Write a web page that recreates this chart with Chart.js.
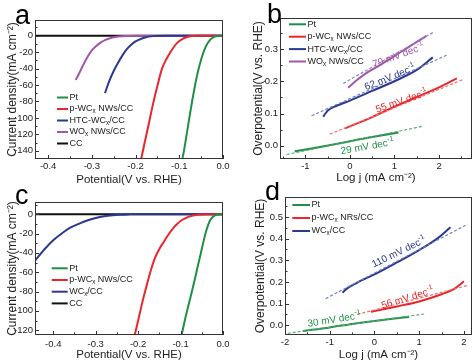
<!DOCTYPE html>
<html>
<head>
<meta charset="utf-8">
<script src="https://cdn.jsdelivr.net/npm/chart.js@4"></script>
<style>
  body { margin: 0; background: #fff; }
  #wrap { position: relative; width: 474px; height: 364px; overflow: hidden; background: #fff; }
  #wrap canvas { position: absolute; }
</style>
</head>
<body>
<div id="wrap">
  <canvas id="panel-a" width="237" height="190" style="left:0;top:0"></canvas>
  <canvas id="panel-b" width="237" height="190" style="left:237px;top:0"></canvas>
  <canvas id="panel-c" width="237" height="182" style="left:0;top:182px"></canvas>
  <canvas id="panel-d" width="237" height="182" style="left:237px;top:182px"></canvas>
</div>
<script>
// ---- panel a : polarization curves (potential V, current density mA cm-2)
const aPtV  = [-0.093, -0.09, -0.08, -0.07, -0.06, -0.05, -0.04, -0.03, -0.02, -0.01, 0];
const aPtJ  = [-150, -142, -110, -78, -50, -29, -14, -5.5, -1.5, -0.3, 0];
const aPwcV = [-0.187, -0.18, -0.17, -0.16, -0.15, -0.14, -0.13, -0.12, -0.11, -0.10, -0.08, -0.05, 0];
const aPwcJ = [-150, -132, -108, -83, -61, -41, -29, -20, -12, -6.5, -1.3, -0.2, 0];
const aHtcV = [-0.27, -0.26, -0.25, -0.24, -0.23, -0.22, -0.21, -0.20, -0.19, -0.18, -0.16, -0.13, 0];
const aHtcJ = [-70, -55, -43, -33, -24, -16.5, -11, -7, -4.5, -2.5, -0.6, -0.1, 0];
const aWoV  = [-0.337, -0.33, -0.32, -0.31, -0.30, -0.29, -0.28, -0.27, -0.26, -0.24, -0.22, -0.19, 0];
const aWoJ  = [-54, -47, -36, -26, -18, -12.5, -8.5, -5.5, -3.5, -1.2, -0.4, -0.1, 0];
const aCcV  = [-0.43, 0];
const aCcJ  = [0, 0];

// ---- panel b : Tafel plots (log j, overpotential V) + linear fits
const bPtX  = [-1.24, -0.8, -0.4, 0, 0.4, 0.8, 1.09];
const bPtY  = [-0.017, -0.007, 0.003, 0.014, 0.025, 0.034, 0.041];
const bPtFitX = [-1.42, 1.65];
const bPtFitY = [-0.027, 0.061];
const bPwcX = [-0.11, 0.5, 1.0, 1.5, 2.0, 2.4];
const bPwcY = [0.054, 0.089, 0.121, 0.151, 0.181, 0.209];
const bPwcFitX = [-0.45, 2.55];
const bPwcFitY = [0.036, 0.206];
const bHtcX = [-0.6, -0.55, -0.49, -0.3, 0, 0.5, 1.0, 1.5, 1.86];
const bHtcY = [0.09, 0.1, 0.11, 0.124, 0.14, 0.17, 0.2, 0.235, 0.274];
const bHtcFitX = [-0.86, 2.21];
const bHtcFitY = [0.093, 0.283];
const bWoX  = [-0.04, 0.15, 0.4, 0.67, 1.0, 1.27, 1.5, 1.72];
const bWoY  = [0.18, 0.203, 0.228, 0.25, 0.278, 0.302, 0.322, 0.341];
const bWoFitX = [-0.15, 1.89];
const bWoFitY = [0.193, 0.353];

// ---- panel c : polarization curves
const cPtV  = [-0.097, -0.09, -0.08, -0.07, -0.06, -0.05, -0.04, -0.03, -0.02, -0.01, 0];
const cPtJ  = [-124, -110, -92, -74, -55, -36, -18, -6, -1.5, -0.3, 0];
const cPwcV = [-0.208, -0.20, -0.19, -0.18, -0.17, -0.16, -0.15, -0.14, -0.13, -0.12, -0.11, -0.10, -0.09, -0.08, -0.06, -0.04, 0];
const cPwcJ = [-125, -110, -91, -74, -58, -45, -36, -29, -22, -16, -11, -7, -4.5, -2.5, -0.6, -0.1, 0];
const cWcV  = [-0.443, -0.42, -0.40, -0.38, -0.36, -0.34, -0.32, -0.30, -0.28, -0.26, -0.24, -0.22, -0.20, 0];
const cWcJ  = [-48, -36, -27, -20, -14, -10, -6.5, -4, -2.2, -1.1, -0.5, -0.2, 0, 0];
const cCcV  = [-0.443, 0];
const cCcJ  = [0, 0];

// ---- panel d : Tafel plots + linear fits
const dPtX  = [-1.6, -1.0, -0.5, 0, 0.4, 0.77];
const dPtY  = [-0.026, -0.01, 0.006, 0.02, 0.03, 0.038];
const dPtFitX = [-1.94, 1.11];
const dPtFitY = [-0.037, 0.052];
const dPwcX = [-0.08, 0.5, 1.0, 1.5, 1.8, 2.0];
const dPwcY = [0.062, 0.087, 0.11, 0.143, 0.17, 0.203];
const dPwcFitX = [-0.38, 2.07];
const dPwcFitY = [0.05, 0.183];
const dWcX  = [-0.71, -0.66, -0.4, 0, 0.5, 1.0, 1.4, 1.7];
const dWcY  = [0.15, 0.162, 0.195, 0.235, 0.29, 0.347, 0.4, 0.452];
const dWcFitX = [-1.09, 2.08];
const dWcFitY = [0.123, 0.466];

const GREEN = "#1f8f45", RED = "#e8262b", NAVY = "#2b3990", PURPLE = "#a356a8", BLACK = "#111111";
const GREEN_FIT = "#5aa877", RED_FIT = "#ee7070", NAVY_FIT = "#7080b8", PURPLE_FIT = "#8088c6";
const FONT = '"Liberation Sans", Arial, sans-serif';
const INK = "#222";

Chart.defaults.font.family = FONT;

function pts(xs, ys) {
  return xs.map((x, i) => ({ x: x, y: ys[i] }));
}

function curve(xs, ys, color) {
  return {
    data: pts(xs, ys),
    borderColor: color,
    borderWidth: 2,
    showLine: true,
    pointRadius: 0,
    cubicInterpolationMode: "monotone",
  };
}

function fitLine(xs, ys, color) {
  return {
    data: pts(xs, ys),
    borderColor: color,
    borderWidth: 1.2,
    borderDash: [3, 2],
    showLine: true,
    pointRadius: 0,
  };
}

// "p-WC_{x} NWs/CC" -> segments, _{} is subscript, ^{} is superscript
function parseRich(s) {
  const out = [];
  const re = /([_^])\{([^}]*)\}/g;
  let last = 0, m;
  while ((m = re.exec(s))) {
    if (m.index > last) out.push({ t: s.slice(last, m.index), k: "" });
    out.push({ t: m[2], k: m[1] });
    last = re.lastIndex;
  }
  if (last < s.length) out.push({ t: s.slice(last), k: "" });
  return out;
}

function richWidth(ctx, s, size) {
  let w = 0;
  parseRich(s).forEach((seg) => {
    ctx.font = (seg.k ? size * 0.7 : size) + "px " + FONT;
    w += ctx.measureText(seg.t).width;
  });
  return w;
}

function drawRich(ctx, s, x, y, size) {
  ctx.textBaseline = "middle";
  ctx.textAlign = "left";
  parseRich(s).forEach((seg) => {
    ctx.font = (seg.k ? size * 0.7 : size) + "px " + FONT;
    let dy = 0;
    if (seg.k === "_") dy = size * 0.3;
    if (seg.k === "^") dy = -size * 0.38;
    ctx.fillText(seg.t, x, y + dy);
    x += ctx.measureText(seg.t).width;
  });
}

// major tick values plus half-step minor ones
function tickMarks(scale, step) {
  const marks = [];
  const majors = scale.ticks.map((t) => t.value);
  majors.forEach((v) => marks.push([v, 4]));
  const cand = majors.map((v) => v + step / 2);
  if (majors.length) cand.push(majors[0] - step / 2);
  cand.forEach((v) => {
    if (v > scale.min && v < scale.max) marks.push([v, 2.5]);
  });
  return marks;
}

// frame, inward ticks, legend, slope notes, panel letter
function panelPlugin(p) {
  return {
    id: "panelDecor",
    afterDatasetsDraw(chart) {
      const { ctx, chartArea: a, scales } = chart;
      ctx.save();
      ctx.strokeStyle = "#333";
      ctx.lineWidth = 1;
      ctx.strokeRect(a.left + 0.5, a.top + 0.5, a.right - a.left - 1, a.bottom - a.top - 1);

      ctx.beginPath();
      tickMarks(scales.x, p.x.step).forEach(([v, len]) => {
        const px = Math.round(scales.x.getPixelForValue(v)) + 0.5;
        ctx.moveTo(px, a.bottom);
        ctx.lineTo(px, a.bottom - len);
      });
      tickMarks(scales.y, p.y.step).forEach(([v, len]) => {
        const py = Math.round(scales.y.getPixelForValue(v)) + 0.5;
        ctx.moveTo(a.left, py);
        ctx.lineTo(a.left + len, py);
      });
      ctx.stroke();

      // legend inside the plot
      const lg = p.legend;
      lg.items.forEach((it, i) => {
        const yy = a.top + lg.y + i * lg.gap;
        ctx.strokeStyle = it.color;
        ctx.lineWidth = 2;
        ctx.beginPath();
        ctx.moveTo(a.left + lg.x, yy);
        ctx.lineTo(a.left + lg.x + lg.w, yy);
        ctx.stroke();
        ctx.fillStyle = INK;
        drawRich(ctx, it.label, a.left + lg.x + lg.w + 1.5, yy, 9);
      });

      // Tafel slope notes, placed in data coordinates
      (p.notes || []).forEach((n) => {
        const px = scales.x.getPixelForValue(n.x);
        const py = scales.y.getPixelForValue(n.y);
        ctx.save();
        ctx.translate(px, py);
        ctx.rotate((n.angle * Math.PI) / 180);
        ctx.fillStyle = n.color;
        const w = richWidth(ctx, n.text, 10);
        drawRich(ctx, n.text, -w / 2, 0, 10);
        ctx.restore();
      });

      ctx.fillStyle = "#000";
      ctx.font = "27px " + FONT;
      ctx.textBaseline = "alphabetic";
      ctx.textAlign = "left";
      ctx.fillText(p.letter.text, p.letter.x, p.letter.y);
      ctx.restore();
    },
  };
}

function makePanel(id, p) {
  new Chart(document.getElementById(id), {
    type: "scatter",
    data: { datasets: p.datasets },
    options: {
      responsive: false,
      animation: false,
      devicePixelRatio: 1,
      layout: { padding: p.pad },
      plugins: { legend: { display: false }, tooltip: { enabled: false } },
      scales: {
        x: {
          type: "linear",
          min: p.x.min,
          max: p.x.max,
          afterFit: (s) => { s.height = p.x.size; },
          grid: { display: false, drawTicks: false },
          border: { display: false },
          ticks: {
            stepSize: p.x.step,
            includeBounds: false,
            autoSkip: false,
            maxRotation: 0,
            padding: p.x.tickPad,
            color: INK,
            font: { size: 9.5 },
            callback: (v) => v.toFixed(p.x.digits),
          },
          title: {
            display: true,
            text: p.x.title,
            color: INK,
            font: { size: 11.5 },
            padding: { top: 0, bottom: p.x.titlePad },
          },
        },
        y: {
          type: "linear",
          min: p.y.min,
          max: p.y.max,
          afterFit: (s) => { s.width = p.y.size; },
          grid: { display: false, drawTicks: false },
          border: { display: false },
          ticks: {
            stepSize: p.y.step,
            includeBounds: false,
            autoSkip: false,
            padding: 2,
            color: INK,
            font: { size: 9.5 },
            callback: (v) => v.toFixed(p.y.digits),
          },
          title: {
            display: true,
            text: p.y.title,
            color: INK,
            font: { size: 12 },
            padding: { top: p.y.titlePad, bottom: 0 },
          },
        },
      },
    },
    plugins: [panelPlugin(p)],
  });
}

const J_TITLE = "Current density(mA cm\u207B\u00B2)";
const E_TITLE = "Potential(V vs. RHE)";
const ETA_TITLE = "Overpotential(V vs. RHE)";
const LOG_TITLE = "Log j (mA cm\u207B\u00B2)";

makePanel("panel-a", {
  letter: { text: "a", x: 15, y: 23.5 },
  pad: { top: 20, right: 14, left: 0, bottom: 0 },
  x: { min: -0.43, max: 0, step: 0.1, digits: 1, size: 31, tickPad: 1.5, title: E_TITLE, titlePad: 3 },
  y: { min: -150, max: 19, step: 20, digits: 0, size: 35, title: J_TITLE, titlePad: 5 },
  datasets: [
    curve(aPtV, aPtJ, GREEN),
    curve(aPwcV, aPwcJ, RED),
    curve(aHtcV, aHtcJ, NAVY),
    curve(aWoV, aWoJ, PURPLE),
    curve(aCcV, aCcJ, BLACK),
  ],
  legend: {
    x: 22, y: 77.5, gap: 11.5, w: 11,
    items: [
      { label: "Pt", color: GREEN },
      { label: "p-WC_{x} NWs/CC", color: RED },
      { label: "HTC-WC_{x}/CC", color: NAVY },
      { label: "WO_{x} NWs/CC", color: PURPLE },
      { label: "CC", color: BLACK },
    ],
  },
});

makePanel("panel-b", {
  letter: { text: "b", x: 30, y: 23 },
  pad: { top: 18, right: 2, left: 0, bottom: 0 },
  x: { min: -1.57, max: 2.74, step: 1, digits: 0, size: 31, tickPad: 1.7, title: LOG_TITLE, titlePad: 5 },
  y: { min: -0.041, max: 0.396, step: 0.1, digits: 1, size: 43, title: ETA_TITLE, titlePad: 14 },
  datasets: [
    fitLine(bPtFitX, bPtFitY, GREEN_FIT),
    fitLine(bPwcFitX, bPwcFitY, RED_FIT),
    fitLine(bHtcFitX, bHtcFitY, NAVY_FIT),
    fitLine(bWoFitX, bWoFitY, PURPLE_FIT),
    curve(bPtX, bPtY, GREEN),
    curve(bPwcX, bPwcY, RED),
    curve(bHtcX, bHtcY, NAVY),
    curve(bWoX, bWoY, PURPLE),
  ],
  legend: {
    x: 9, y: 6.3, gap: 12.4, w: 17,
    items: [
      { label: "Pt", color: GREEN },
      { label: "p-WC_{x} NWs/CC", color: RED },
      { label: "HTC-WC_{x}/CC", color: NAVY },
      { label: "WO_{x} NWs/CC", color: PURPLE },
    ],
  },
  notes: [
    { text: "79 mV dec^{-1}", x: 1.09, y: 0.279, angle: -20, color: PURPLE },
    { text: "62 mV dec^{-1}", x: 0.9, y: 0.211, angle: -22, color: NAVY },
    { text: "55 mV dec^{-1}", x: 1.16, y: 0.138, angle: -19, color: RED },
    { text: "29 mV dec^{-1}", x: 0.39, y: -0.003, angle: -10, color: GREEN },
  ],
});

makePanel("panel-c", {
  letter: { text: "c", x: 15, y: 22 },
  pad: { top: 20, right: 14, left: 0, bottom: 0 },
  x: { min: -0.443, max: 0, step: 0.1, digits: 1, size: 29, tickPad: 3.5, title: E_TITLE, titlePad: 2 },
  y: { min: -125, max: 12.6, step: 20, digits: 0, size: 35, title: J_TITLE, titlePad: 5 },
  datasets: [
    curve(cPtV, cPtJ, GREEN),
    curve(cPwcV, cPwcJ, RED),
    curve(cWcV, cWcJ, NAVY),
    curve(cCcV, cCcJ, BLACK),
  ],
  legend: {
    x: 16.7, y: 66.3, gap: 11.7, w: 16,
    items: [
      { label: "Pt", color: GREEN },
      { label: "p-WC_{x} NWs/CC", color: RED },
      { label: "WC_{x}/CC", color: NAVY },
      { label: "CC", color: BLACK },
    ],
  },
});

makePanel("panel-d", {
  letter: { text: "d", x: 28, y: 18 },
  pad: { top: 15, right: 2, left: 0, bottom: 0 },
  x: { min: -2, max: 2.18, step: 1, digits: 0, size: 29, tickPad: 1.7, title: LOG_TITLE, titlePad: 2.4 },
  y: { min: -0.045, max: 0.592, step: 0.1, digits: 1, size: 48, title: ETA_TITLE, titlePad: 16 },
  datasets: [
    fitLine(dPtFitX, dPtFitY, GREEN_FIT),
    fitLine(dPwcFitX, dPwcFitY, RED_FIT),
    fitLine(dWcFitX, dWcFitY, NAVY_FIT),
    curve(dPtX, dPtY, GREEN),
    curve(dPwcX, dPwcY, RED),
    curve(dWcX, dWcY, NAVY),
  ],
  legend: {
    x: 7.3, y: 8, gap: 13, w: 17.7,
    items: [
      { label: "Pt", color: GREEN },
      { label: "p-WC_{x} NRs/CC", color: RED },
      { label: "WC_{x}/CC", color: NAVY },
    ],
  },
  notes: [
    { text: "110 mV dec^{-1}", x: 0.55, y: 0.337, angle: -26, color: NAVY },
    { text: "56 mV dec^{-1}", x: 0.74, y: 0.125, angle: -17, color: RED },
    { text: "30 mV dec^{-1}", x: -0.9, y: 0.025, angle: -9, color: GREEN },
  ],
});
</script>
</body>
</html>
